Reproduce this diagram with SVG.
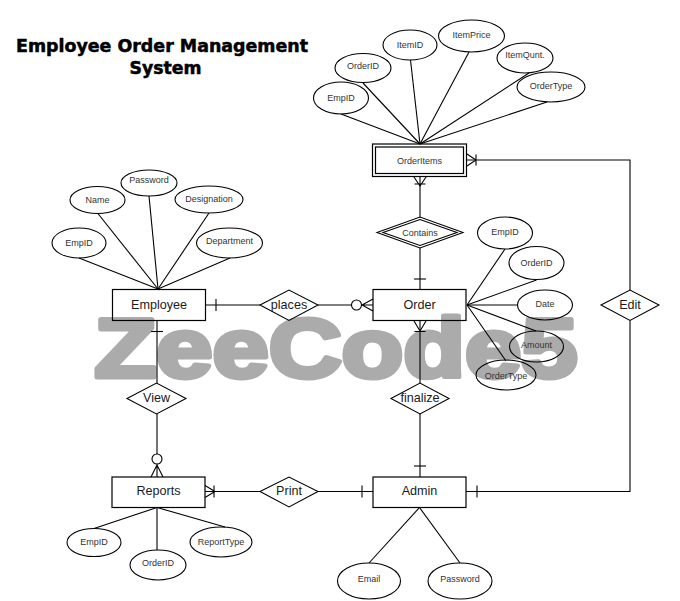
<svg xmlns="http://www.w3.org/2000/svg" width="680" height="601" viewBox="0 0 680 601">
<style>
.bg{fill:#ffffff}
.wm{font-family:"Liberation Sans",Arial,sans-serif;font-weight:bold;font-size:83px;fill:#ababab;stroke:#ababab;stroke-width:5;stroke-linejoin:round}
.title{font-family:"DejaVu Sans",sans-serif;font-weight:bold;font-size:17px;fill:#000;stroke:#000;stroke-width:0.5;text-anchor:middle}
.ent{fill:none;stroke:#000;stroke-width:1.2}
.attr{fill:none;stroke:#000;stroke-width:1.1}
.rel{fill:none;stroke:#000;stroke-width:1.1}
.ln{fill:none;stroke:#000;stroke-width:1.1}
.et{font-family:"Liberation Sans",Arial,sans-serif;font-size:12.6px;fill:#1a1a1a;text-anchor:middle;dominant-baseline:central}
.at{font-family:"Liberation Sans",Arial,sans-serif;font-size:9px;fill:#333;text-anchor:middle;dominant-baseline:central}
</style>
<rect class="bg" x="0" y="0" width="680" height="601"/>
<text class="wm" x="94.5" y="377" textLength="483" lengthAdjust="spacingAndGlyphs">ZeeCode5</text>
<g id="title">
<text class="title" x="162" y="52" textLength="292" lengthAdjust="spacingAndGlyphs">Employee Order Management</text>
<text class="title" x="165.5" y="73.5" textLength="72" lengthAdjust="spacingAndGlyphs">System</text>
</g>
<g id="connectors">
<!-- Employee attributes -->
<line class="ln" x1="79" y1="258" x2="158" y2="289"/>
<line class="ln" x1="97.5" y1="213" x2="158" y2="289"/>
<line class="ln" x1="149" y1="196" x2="158" y2="289"/>
<line class="ln" x1="209" y1="213" x2="158" y2="289"/>
<line class="ln" x1="230" y1="258" x2="158" y2="289"/>
<!-- OrderItems attributes -->
<line class="ln" x1="341" y1="114" x2="420" y2="144"/>
<line class="ln" x1="363" y1="83" x2="420" y2="144"/>
<line class="ln" x1="410.5" y1="60" x2="420" y2="144"/>
<line class="ln" x1="469" y1="52" x2="420" y2="144"/>
<line class="ln" x1="529" y1="73" x2="420" y2="144"/>
<line class="ln" x1="547" y1="102" x2="420" y2="144"/>
<!-- Order attributes -->
<line class="ln" x1="505" y1="249" x2="467" y2="305"/>
<line class="ln" x1="536.5" y1="280" x2="467" y2="305"/>
<line class="ln" x1="517.5" y1="305" x2="467" y2="305"/>
<line class="ln" x1="536" y1="331" x2="467" y2="305"/>
<line class="ln" x1="506" y1="361" x2="467" y2="305"/>
<!-- Reports attributes -->
<line class="ln" x1="94" y1="528.5" x2="157" y2="507.5"/>
<line class="ln" x1="157" y1="550" x2="157" y2="507.5"/>
<line class="ln" x1="225" y1="527" x2="157" y2="507.5"/>
<!-- Admin attributes -->
<line class="ln" x1="369" y1="563" x2="419.5" y2="507.5"/>
<line class="ln" x1="460" y1="563" x2="419.5" y2="507.5"/>
<!-- OrderItems - Contains -->
<line class="ln" x1="420" y1="176.5" x2="420" y2="217"/>
<path class="ln" d="M414,177 L420,186 L426,177 M414.5,184 L425.5,184"/>
<!-- Contains - Order -->
<line class="ln" x1="420" y1="248" x2="420" y2="289"/>
<line class="ln" x1="414" y1="279" x2="426" y2="279"/>
<!-- Order - finalize -->
<line class="ln" x1="420" y1="320.5" x2="420" y2="383"/>
<path class="ln" d="M414,321 L420,331 L426,321 M414.5,331.5 L425.5,331.5"/>
<!-- finalize - Admin -->
<line class="ln" x1="420" y1="414" x2="420" y2="477"/>
<line class="ln" x1="414" y1="466" x2="426" y2="466"/>
<!-- Employee - places -->
<line class="ln" x1="205" y1="305" x2="260" y2="305"/>
<line class="ln" x1="216" y1="299" x2="216" y2="311"/>
<!-- places - Order -->
<line class="ln" x1="318" y1="305" x2="351" y2="305"/>
<circle class="ln" cx="356.5" cy="305" r="5"/>
<path class="ln" d="M361.5,305 L373,305 M373,299 L362,305 L373,311"/>
<!-- Employee - View -->
<line class="ln" x1="157" y1="320.5" x2="157" y2="383"/>
<line class="ln" x1="151" y1="331.5" x2="163" y2="331.5"/>
<!-- View - Reports -->
<line class="ln" x1="157" y1="414" x2="157" y2="454"/>
<circle class="ln" cx="157" cy="459" r="5"/>
<path class="ln" d="M157,464 L157,477 M151,477 L157,465 L163,477"/>
<!-- Reports - Print -->
<line class="ln" x1="205" y1="491.5" x2="260" y2="491.5"/>
<path class="ln" d="M205,485.5 L215,491.5 L205,497.5 M214,485.5 L214,497.5"/>
<!-- Print - Admin -->
<line class="ln" x1="318" y1="491.5" x2="373" y2="491.5"/>
<line class="ln" x1="362" y1="485.5" x2="362" y2="497.5"/>
<!-- Admin - Edit - OrderItems -->
<polyline class="ln" points="466,491.5 630,491.5 630,320.5"/>
<line class="ln" x1="477" y1="485.5" x2="477" y2="497.5"/>
<polyline class="ln" points="630,290 630,160 467,160"/>
<path class="ln" d="M467,154 L476,160 L467,166 M476,154.5 L476,165.5"/>
</g>
<g id="OrderItems">
<rect class="ent" x="372.5" y="144" width="94" height="32.5"/>
<rect class="ent" x="375.5" y="147" width="88" height="26.5"/>
<text class="at" x="419.5" y="160.5">OrderItems</text>
</g>
<g id="Contains">
<polygon class="rel" points="377,232.5 420,217 463,232.5 420,248"/>
<polygon class="rel" points="383,232.5 420,219.5 457,232.5 420,245.5"/>
<text class="at" x="420" y="232.5">Contains</text>
</g>
<g id="Order">
<rect class="ent" x="373" y="289.5" width="93" height="31"/>
<text class="et" x="419.5" y="304.5">Order</text>
</g>
<g id="Employee">
<rect class="ent" x="112.5" y="289.5" width="93" height="31"/>
<text class="et" x="159" y="304.5">Employee</text>
</g>
<g id="places">
<polygon class="rel" points="260,305 289,290 318,305 289,320.5"/>
<text class="et" x="289" y="304.5">places</text>
</g>
<g id="finalize">
<polygon class="rel" points="391,398.5 420,383 449,398.5 420,414"/>
<text class="et" x="420" y="397.5">finalize</text>
</g>
<g id="View">
<polygon class="rel" points="127,398.5 156.5,383 186,398.5 156.5,414"/>
<text class="et" x="156.5" y="397.5">View</text>
</g>
<g id="Reports">
<rect class="ent" x="112" y="477" width="93" height="30.5"/>
<text class="et" x="158.5" y="491">Reports</text>
</g>
<g id="Print">
<polygon class="rel" points="260,491.5 289,477 318,491.5 289,507"/>
<text class="et" x="289" y="491">Print</text>
</g>
<g id="Admin">
<rect class="ent" x="373" y="477" width="93" height="30.5"/>
<text class="et" x="419.5" y="491">Admin</text>
</g>
<g id="Edit">
<polygon class="rel" points="601,305 630,290 659,305 630,320.5"/>
<text class="et" x="630" y="304.5">Edit</text>
</g>
<g id="emp-EmpID"><ellipse class="attr" cx="79" cy="243" rx="27" ry="15"/><text class="at" x="79" y="243">EmpID</text></g>
<g id="emp-Name"><ellipse class="attr" cx="97.5" cy="200" rx="27.5" ry="13.5"/><text class="at" x="97.5" y="200">Name</text></g>
<g id="emp-Password"><ellipse class="attr" cx="149" cy="183" rx="28" ry="13"/><text class="at" x="149" y="180">Password</text></g>
<g id="emp-Designation"><ellipse class="attr" cx="209" cy="199.5" rx="34" ry="13.5"/><text class="at" x="209" y="199">Designation</text></g>
<g id="emp-Department"><ellipse class="attr" cx="229.5" cy="243" rx="33" ry="15"/><text class="at" x="229.5" y="241">Department</text></g>
<g id="oi-EmpID"><ellipse class="attr" cx="341" cy="98" rx="27.5" ry="16"/><text class="at" x="341" y="98">EmpID</text></g>
<g id="oi-OrderID"><ellipse class="attr" cx="363" cy="68" rx="28" ry="14.5"/><text class="at" x="363" y="66">OrderID</text></g>
<g id="oi-ItemID"><ellipse class="attr" cx="410" cy="45" rx="27" ry="15"/><text class="at" x="410" y="45">ItemID</text></g>
<g id="oi-ItemPrice"><ellipse class="attr" cx="471.5" cy="36" rx="33" ry="16"/><text class="at" x="471.5" y="35">ItemPrice</text></g>
<g id="oi-ItemQunt"><ellipse class="attr" cx="525" cy="58" rx="28" ry="15"/><text class="at" x="525" y="55">ItemQunt.</text></g>
<g id="oi-OrderType"><ellipse class="attr" cx="551" cy="87" rx="34" ry="15"/><text class="at" x="551" y="86">OrderType</text></g>
<g id="ord-EmpID"><ellipse class="attr" cx="505" cy="233" rx="27.5" ry="16"/><text class="at" x="505" y="232">EmpID</text></g>
<g id="ord-OrderID"><ellipse class="attr" cx="536.5" cy="263" rx="27.5" ry="16.5"/><text class="at" x="536.5" y="263">OrderID</text></g>
<g id="ord-Date"><ellipse class="attr" cx="545" cy="305" rx="27.5" ry="15"/><text class="at" x="545" y="304">Date</text></g>
<g id="ord-Amount"><ellipse class="attr" cx="536.5" cy="346.5" rx="27" ry="15.5"/><text class="at" x="536.5" y="345">Amount</text></g>
<g id="ord-OrderType"><ellipse class="attr" cx="506" cy="375" rx="30" ry="15"/><text class="at" x="506" y="376">OrderType</text></g>
<g id="rep-EmpID"><ellipse class="attr" cx="94" cy="542.5" rx="27" ry="14"/><text class="at" x="94" y="542">EmpID</text></g>
<g id="rep-OrderID"><ellipse class="attr" cx="158" cy="565" rx="28" ry="15"/><text class="at" x="158" y="563">OrderID</text></g>
<g id="rep-ReportType"><ellipse class="attr" cx="221" cy="542" rx="31" ry="15"/><text class="at" x="221" y="542">ReportType</text></g>
<g id="adm-Email"><ellipse class="attr" cx="369" cy="581" rx="31.5" ry="18"/><text class="at" x="369" y="579">Email</text></g>
<g id="adm-Password"><ellipse class="attr" cx="460" cy="581" rx="32" ry="18"/><text class="at" x="460" y="579">Password</text></g>
</svg>
